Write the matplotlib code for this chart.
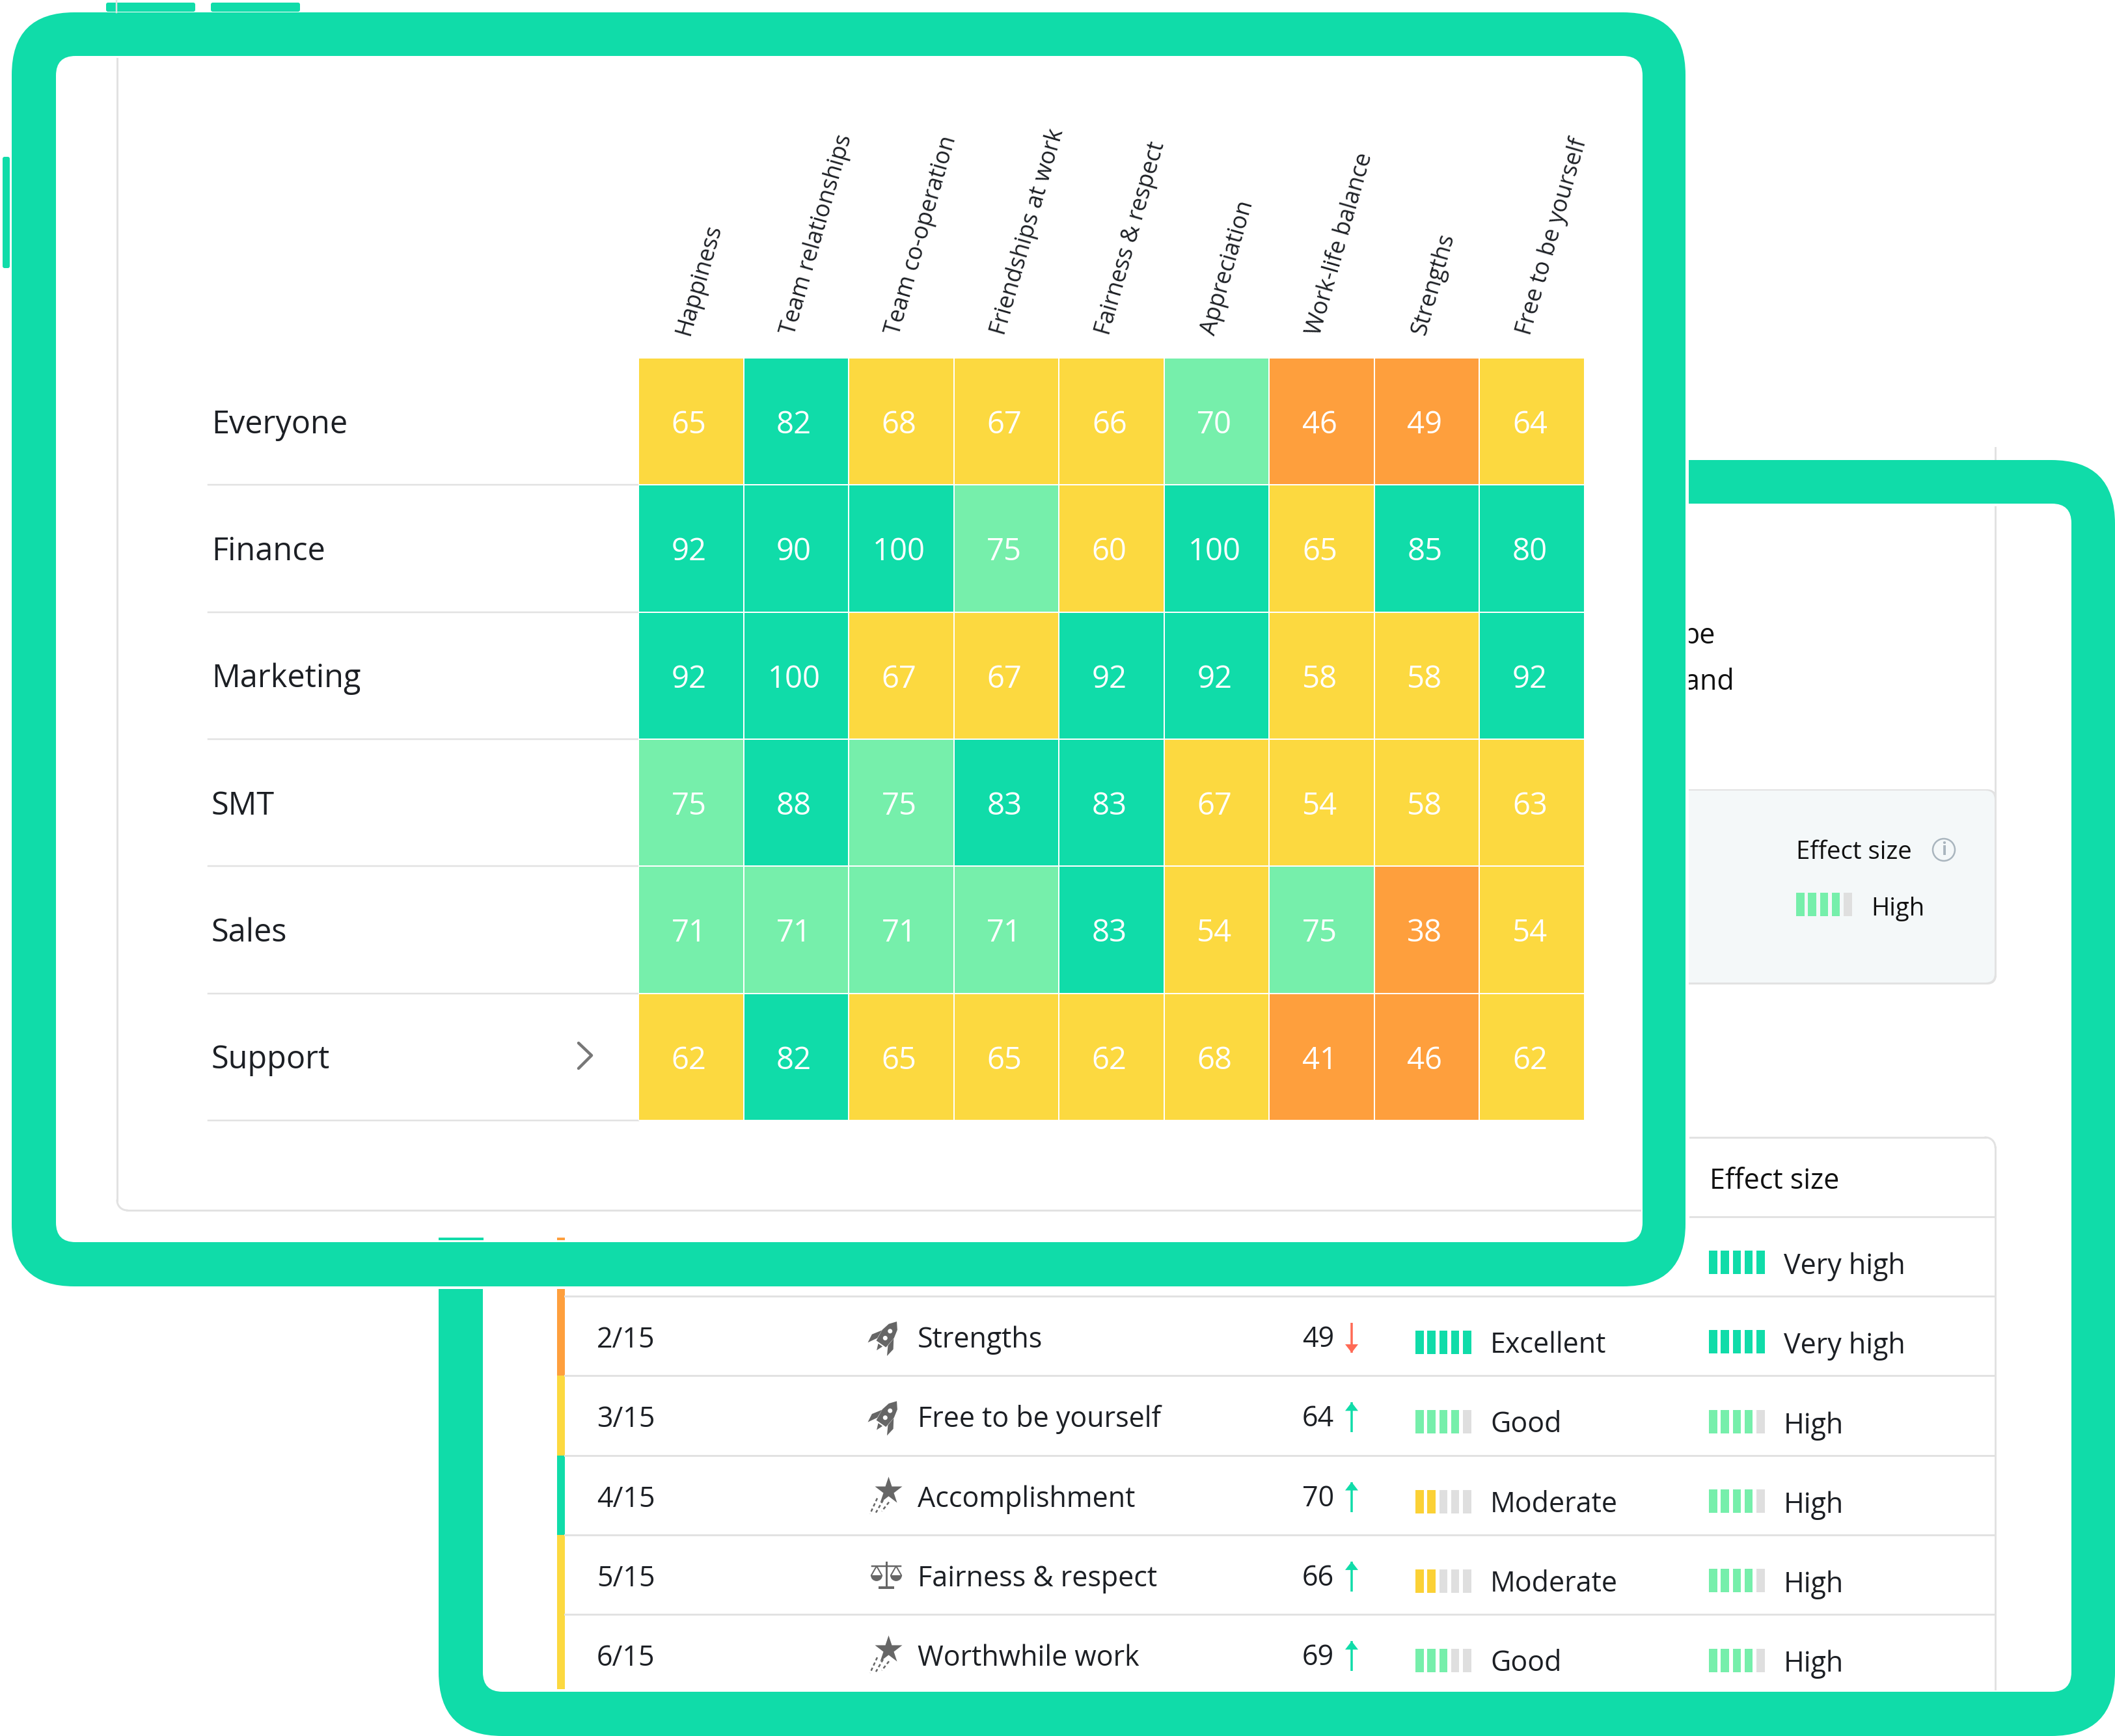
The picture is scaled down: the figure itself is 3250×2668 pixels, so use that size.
import numpy as np
import matplotlib
matplotlib.use('Agg')
from matplotlib import pyplot as plt
from matplotlib.colors import ListedColormap, BoundaryNorm
from matplotlib.patches import FancyBboxPatch, Polygon, Circle, Rectangle, Wedge

plt.rcParams['font.family'] = ['Open Sans', 'DejaVu Sans']

# heatmap data
columns = ['Happiness', 'Team relationships', 'Team co-operation', 'Friendships at work',
           'Fairness & respect', 'Appreciation', 'Work-life balance', 'Strengths', 'Free to be yourself']
groups = ['Everyone', 'Finance', 'Marketing', 'SMT', 'Sales', 'Support']
everyone = [65, 82, 68, 67, 66, 70, 46, 49, 64]
finance = [92, 90, 100, 75, 60, 100, 65, 85, 80]
marketing = [92, 100, 67, 67, 92, 92, 58, 58, 92]
smt = [75, 88, 75, 83, 83, 67, 54, 58, 63]
sales = [71, 71, 71, 71, 83, 54, 75, 38, 54]
support = [62, 82, 65, 65, 62, 68, 41, 46, 62]

# table behind the heatmap
ranks = ['2/15', '3/15', '4/15', '5/15', '6/15']
drivers = ['Strengths', 'Free to be yourself', 'Accomplishment', 'Fairness & respect', 'Worthwhile work']
icons = ['rocket', 'rocket', 'star', 'scales', 'star']
scores = [49, 64, 70, 66, 69]
score_up = [False, True, True, True, True]
strip_colors = ['orange', 'yellow', 'green', 'yellow', 'yellow']
impact = ['Excellent', 'Good', 'Moderate', 'Moderate', 'Good']
impact_bars = [5, 4, 2, 2, 3]
impact_tone = ['green', 'light', 'amber', 'amber', 'light']
effect = ['Very high', 'Very high', 'High', 'High', 'High', 'High']
effect_bars = [5, 5, 4, 4, 4, 4]
effect_tone = ['green', 'green', 'light', 'light', 'light', 'light']

W, H = 3250, 2668
TEAL = '#10DCA9'
tones = {'green': TEAL, 'light': '#76EFAB', 'yellow': '#FCD940', 'amber': '#FBD136',
         'orange': '#FE9F3D', 'grey': '#DFDFDF'}
LINE = '#E2E2E2'
INK = '#1C1F24'


def px(w):
    return w * 0.72


def rbox(ax, x0, y0, x1, y1, r, color):
    ax.add_patch(FancyBboxPatch((x0, y0), x1 - x0, y1 - y0, boxstyle='round,pad=0,rounding_size=%d' % r,
                                fc=color, ec='none'))


def meter(ax, x0, yc, on, tone, w=12.5, pitch=18.3, h=36):
    for i in range(5):
        c = tones[tone] if i < on else tones['grey']
        ax.add_patch(Rectangle((x0 + i * pitch, yc - h / 2), w, h, fc=c, ec='none'))


def rot(pts, deg, xc, yc):
    a = np.radians(deg)
    pts = np.array(pts, dtype=float)
    x = pts[:, 0] * np.cos(a) - pts[:, 1] * np.sin(a)
    y = pts[:, 0] * np.sin(a) + pts[:, 1] * np.cos(a)
    return np.column_stack([x + xc, y + yc])


def icon(ax, kind, xc, yc):
    grey = '#666666'
    if kind == 'rocket':
        tilt = 35
        body = [(0, -28), (8, -18), (11, -5), (9, 14), (-9, 14), (-11, -5), (-8, -18)]
        ax.add_patch(Polygon(rot(body, tilt, xc, yc), fc=grey, ec='none'))
        ax.add_patch(Polygon(rot([(-11, -4), (-20, 10), (-18, 24), (-10, 10)], tilt, xc, yc), fc=grey, ec='none'))
        ax.add_patch(Polygon(rot([(11, -4), (20, 10), (18, 24), (10, 10)], tilt, xc, yc), fc=grey, ec='none'))
        ax.add_patch(Polygon(rot([(-4, 16), (4, 16), (0, 26)], tilt, xc, yc), fc=grey, ec='none'))
        for wy in (-10, 3):
            wx, wy2 = rot([(0, wy)], tilt, xc, yc)[0]
            ax.add_patch(Circle((wx, wy2), 3.5, fc='white', ec='none'))
    elif kind == 'star':
        ax.plot([xc + 3], [yc - 8], marker='*', ms=px(44), color=grey, mec='none')
        for dx, n in [(-14, 0), (-5, 1), (4, 2)]:
            ax.plot([xc + dx, xc + dx - 11], [yc + 4 + n * 3, yc + 28 - n * 2], color=grey, lw=px(2.5), ls=(0, (2, 1.5)))
    else:
        ax.plot([xc, xc], [yc - 20, yc + 19], color=grey, lw=px(3))
        ax.plot([xc - 10, xc + 10], [yc + 19, yc + 19], color=grey, lw=px(4))
        ax.plot([xc - 22, xc + 22], [yc - 14, yc - 14], color=grey, lw=px(2.5))
        for s in (-1, 1):
            cx = xc + s * 15
            ax.plot([cx - 8, cx, cx + 8], [yc, yc - 14, yc], color=grey, lw=px(2))
            ax.add_patch(Wedge((cx, yc), 9, 0, 180, fc=grey, ec='none'))


def arrow(ax, x, y0, y1, up):
    c = TEAL if up else '#FF6A55'
    ax.plot([x, x], [y0, y1], color=c, lw=px(3.5), solid_capstyle='butt')
    if up:
        ax.add_patch(Polygon([(x - 10, y0 + 13), (x + 10, y0 + 13), (x, y0)], fc=c, ec='none'))
    else:
        ax.add_patch(Polygon([(x - 10, y1 - 13), (x + 10, y1 - 13), (x, y1)], fc=c, ec='none'))


def full_axes(z):
    ax = fig.add_axes([0, 0, 1, 1], zorder=z)
    ax.set_xlim(0, W)
    ax.set_ylim(H, 0)
    ax.axis('off')
    return ax


fig = plt.figure(figsize=(W / 100, H / 100), dpi=100, facecolor='white')

# back tablet
back = full_axes(1)
rbox(back, 674, 707, 3250, 2668, 98, TEAL)
rbox(back, 742, 774, 3183, 2600, 30, 'white')
back.plot([3066, 3066], [688, 705], color=LINE, lw=px(3))
back.plot([3066, 3066], [779, 1500], color=LINE, lw=px(3))
back.text(2636, 989, 'be', fontsize=31, color='#111111', ha='right', va='baseline')
back.text(2665, 1060, 'and', fontsize=31, color='#111111', ha='right', va='baseline')

# filters panel
rbox(back, 2400, 1213, 3068, 1513, 15, LINE)
rbox(back, 2400, 1215, 3065, 1510, 14, '#F4F8F9')
back.text(2760, 1320, 'Effect size', fontsize=27.5, color='#111111', va='baseline')
back.add_patch(Circle((2987, 1306), 17, fc='none', ec='#A9B5BE', lw=px(2.5)))
back.text(2987, 1306, 'i', fontsize=19, color='#A9B5BE', ha='center', va='center', fontweight='bold')
meter(back, 2760, 1390, 4, 'light')
back.text(2875, 1407, 'High', fontsize=27.5, color='#111111', va='baseline')

# table card
row_h = 122.3
first_line = 1992
t = np.linspace(0, np.pi / 2, 12)
back.plot([2597, 3051], [1748, 1748], color=LINE, lw=px(3))
back.plot(3051 + 15 * np.sin(t), 1763 - 15 * np.cos(t), color=LINE, lw=px(3))
back.plot([3066, 3066], [1763, 2596], color=LINE, lw=px(3))
back.plot([868, 3066], [1992, 1992], color=LINE, lw=px(3))
back.plot([2597, 3066], [1870, 1870], color=LINE, lw=px(3))
back.text(2627, 1827, 'Effect size', fontsize=31, color='#111111', va='baseline')
for i in range(len(ranks)):
    top = first_line + i * row_h
    bottom = top + row_h
    y_start = top if i else 1981
    back.add_patch(Rectangle((856, y_start), 12, min(bottom, 2596) - y_start,
                             fc=tones[strip_colors[i]], ec='none'))
    if i < len(ranks) - 1:
        back.plot([868, 3066], [bottom, bottom], color=LINE, lw=px(3))
    back.text(917, top + 79, ranks[i], fontsize=31, color=INK, va='baseline')
    icon(back, icons[i], 1362, top + 62)
    back.text(1410, top + 79, drivers[i], fontsize=31, color=INK, va='baseline')
    back.text(2001, top + 78, str(scores[i]), fontsize=31, color=INK, va='baseline')
    arrow(back, 2077, top + 41, top + 87, score_up[i])
    meter(back, 2175, top + 71, impact_bars[i], impact_tone[i])
    back.text(2290, top + 87, impact[i], fontsize=31, color=INK, va='baseline')
for i in range(len(effect)):
    yc = 1940 + i * row_h
    meter(back, 2626, yc, effect_bars[i], effect_tone[i])
    back.text(2741, yc + 18, effect[i], fontsize=31, color=INK, va='baseline')

# front tablet
front = full_axes(2)
rbox(front, 14, 15, 2595, 1981, 100, 'white')
rbox(front, 18, 19, 2590, 1977, 96, TEAL)
rbox(front, 86, 86, 2524, 1909, 30, 'white')
for x0, x1 in [(163, 300), (324, 461)]:
    rbox(front, x0, 4, x1, 18, 3, TEAL)
rbox(front, 4, 241, 15, 412, 3, TEAL)
front.plot([179, 179], [0, 19], color=LINE, lw=px(2.5))
front.plot([180, 180], [90, 1845], color=LINE, lw=px(3))
front.plot([195, 2520], [1860, 1860], color=LINE, lw=px(3))
front.plot(195 - 15 * np.cos(t), 1845 + 15 * np.sin(t), color=LINE, lw=px(3))
front.add_patch(Rectangle((674, 1902), 69, 4, fc=TEAL, ec='none'))
front.add_patch(Rectangle((856, 1902), 12, 4, fc=tones['orange'], ec='none'))

# heatmap
heat_x0, heat_x1, heat_y0, heat_y1 = 981, 2435, 550, 1722
values = np.array([everyone, finance, marketing, smt, sales, support])
cmap = ListedColormap([tones['orange'], tones['yellow'], tones['light'], tones['green']])
norm = BoundaryNorm([0, 50, 70, 80, 101], cmap.N)
ax = fig.add_axes([heat_x0 / W, 1 - heat_y1 / H, (heat_x1 - heat_x0) / W, (heat_y1 - heat_y0) / H], zorder=3)
ax.patch.set_alpha(0)
ax.pcolormesh(np.arange(10), np.arange(7), values, cmap=cmap, norm=norm, edgecolors='white', linewidth=px(1.6))
ax.set_xlim(0, 9)
ax.set_ylim(6, 0)
ax.axis('off')
for r in range(values.shape[0]):
    for c in range(values.shape[1]):
        ax.text(c + 0.48, r + 0.5, str(values[r, c]), color='white', fontsize=34, ha='center', va='center_baseline')
for c, name in enumerate(columns):
    ax.text(c + 0.48, -0.17, name, rotation=74, rotation_mode='anchor', ha='left', va='baseline',
            fontsize=25.8, color=INK, clip_on=False)

row_step = (heat_y1 - heat_y0) / len(groups)
for r, name in enumerate(groups):
    base = heat_y0 + (r + 1) * row_step
    front.text(325, heat_y0 + (r + 0.5) * row_step + 18, name, fontsize=35, color=INK, va='baseline')
    front.plot([320, heat_x0], [base, base], color=LINE, lw=px(2.5))
front.plot([889, 909, 889], [1603, 1622, 1642], color='#777777', lw=px(4.5), solid_capstyle='round')

fig.savefig('out.png', dpi=100, facecolor='white')
